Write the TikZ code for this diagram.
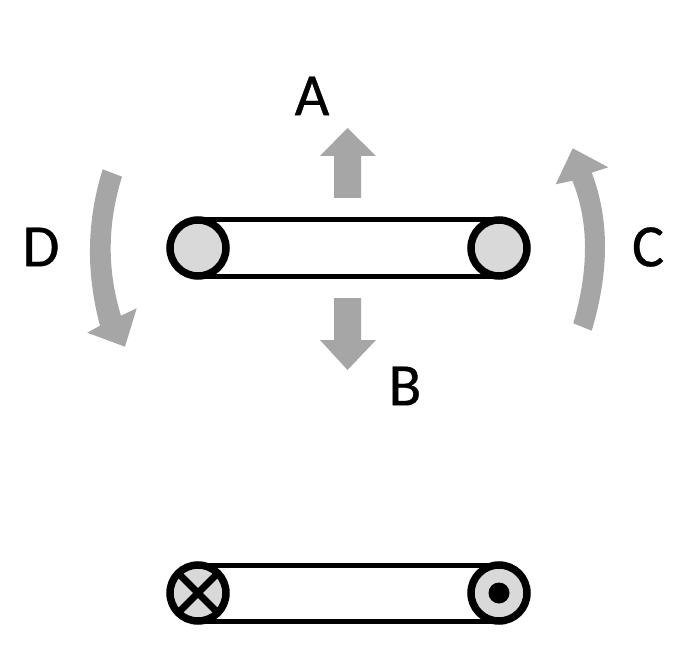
\documentclass[tikz,border=0pt]{standalone}
\usepackage{fontspec}
\setmainfont[FakeBold=0.6]{Carlito}
\definecolor{arrowgray}{HTML}{A6A6A6}
\definecolor{coilgray}{HTML}{D9D9D9}
\tikzset{
  coil/.style={circle,draw=black,fill=coilgray,line width=7.5pt,minimum size=56pt,inner sep=0pt,outer sep=0pt},
  wire/.style={draw=black,line width=5pt},
  mark line/.style={draw=black,line width=7pt},
  force/.style={fill=arrowgray,draw=none},
  letter/.style={font=\fontsize{60}{60}\selectfont,inner sep=0pt,text=black}
}
\begin{document}
\begin{tikzpicture}[x=1pt,y=-1pt]
\useasboundingbox (0,0) rectangle (694,666);
\fill[white] (0,0) rectangle (694,666);
% upper loop
\node[coil] (l1) at (198,248) {};
\node[coil] (r1) at (499,248) {};
\draw[wire] (l1.north) -- (r1.north);
\draw[wire] (l1.south) -- (r1.south);
% lower loop
\node[coil] (l2) at (198,593) {};
\node[coil] (r2) at (499,593) {};
\draw[wire] (l2.north) -- (r2.north);
\draw[wire] (l2.south) -- (r2.south);
\draw[mark line] (l2.north west) -- (l2.south east);
\draw[mark line] (l2.north east) -- (l2.south west);
\node[circle,fill=black,minimum size=21pt,inner sep=0pt] (dot) at (r2) {};
% straight arrows
\fill[force] (334,198) -- (334,156) -- (320,156) -- (347.5,128) -- (376,156) -- (361,156) -- (361,198) -- cycle;
\fill[force] (334,298) -- (334,340) -- (320,340) -- (347.5,370) -- (376,340) -- (361,340) -- (361,298) -- cycle;
% curved arrows
\fill[force] (102.7,169.3) .. controls (86.67,220.4) and (85.77,272.5) .. (100,325.7) -- (87.3,332.7) -- (125,346.7) -- (136.7,308.3) -- (121,315.7) .. controls (106.93,270) and (107.27,223.7) .. (122,176.7) -- cycle;
\fill[force] (591.7,330.7) .. controls (609.43,271.4) and (609.43,218.7) .. (591.7,172.7) -- (608.3,167.3) -- (572.7,148.3) -- (555.7,184.3) -- (572.3,180.7) .. controls (588.9,221.2) and (589.23,268.7) .. (573.3,323.3) -- cycle;
% labels
\node[letter] (A) at (312,96) {A};
\node[letter] (B) at (405,386) {B};
\node[letter] (C) at (648,247) {C};
\node[letter] (D) at (41,247) {D};
\end{tikzpicture}
\end{document}
